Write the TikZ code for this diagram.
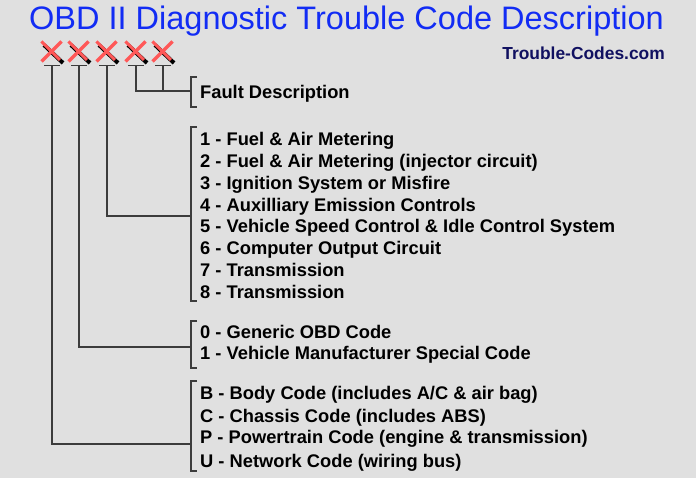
\documentclass[tikz,border=0pt]{standalone}
\usepackage{fontspec}
\setmainfont{Liberation Sans}
\definecolor{bgc}{RGB}{224,224,224}
\definecolor{titleblue}{RGB}{18,44,244}
\definecolor{navy}{RGB}{16,16,96}
\definecolor{xred}{RGB}{255,88,88}
\definecolor{linec}{RGB}{60,60,60}
\begin{document}
\begin{tikzpicture}[x=1pt,y=-1pt,
  conn/.style={draw=linec,line width=1.6pt},
  brk/.style={draw=linec,line width=1.4pt},
  tick/.style={draw=linec,line width=1.2pt},
  itemtext/.style={anchor=base west,inner sep=0pt,font=\fontsize{18.3}{20}\selectfont\bfseries,text=black},
  xmark/.style={minimum size=26pt,inner sep=0pt,
    path picture={
      \draw[black,line width=4pt] ([shift={(-8pt,7pt)}]path picture bounding box.center) -- ([shift={(11pt,-11pt)}]path picture bounding box.center);
      \draw[xred,line width=3pt] ([shift={(-10.5pt,10.5pt)}]path picture bounding box.center) -- ([shift={(8pt,-8pt)}]path picture bounding box.center);
      \draw[xred,line width=3.4pt] ([shift={(-10.5pt,-9.5pt)}]path picture bounding box.center) -- ([shift={(9.5pt,10.5pt)}]path picture bounding box.center);
    }}]
\fill[bgc] (0,0) rectangle (696,478);
\useasboundingbox (0,0) rectangle (696,478);

% title
\node[anchor=base west,inner sep=0pt,text=titleblue,font=\fontsize{32.5}{34}\selectfont] (title) at (29,29.5) {OBD II Diagnostic Trouble Code Description};
\node[anchor=base east,inner sep=0pt,text=navy,font=\fontsize{17.4}{19}\selectfont\bfseries] (site) at (665,59.5) {Trouble-Codes.com};

% X marks
\node[xmark] (x1) at (52,52) {};
\node[xmark] (x2) at (79,52) {};
\node[xmark] (x3) at (107,52) {};
\node[xmark] (x4) at (136,52) {};
\node[xmark] (x5) at (163,52) {};
\foreach \n in {x1,x2,x3,x4,x5}{
  \draw[tick] ([xshift=-8pt]\n.south) -- ([xshift=8pt]\n.south);
}

% brackets
\coordinate (f0) at (191,77);  \coordinate (f1) at (191,107);
\coordinate (g0) at (191,127); \coordinate (g1) at (191,301);
\coordinate (h0) at (191,321); \coordinate (h1) at (191,368);
\coordinate (k0) at (191,381); \coordinate (k1) at (191,471);
\foreach \a/\b in {f0/f1,g0/g1,h0/h1,k0/k1}{
  \draw[brk] ([xshift=6pt]\a) -- (\a) -- (\b) -- ([xshift=6pt]\b);
}
\coordinate (fj) at (191,91);
\coordinate (gj) at (191,216);
\coordinate (hj) at (191,347);
\coordinate (kj) at (191,444);

% connectors
\draw[conn] (x4.south) |- (fj);
\draw[conn] (x5.south) -- (x5.south |- fj);
\draw[conn] (x3.south) |- (gj);
\draw[conn] (x2.south) |- (hj);
\draw[conn] (x1.south) |- (kj);

% texts
\node[itemtext] (fd) at (200,98.5) {Fault Description};
\node[itemtext] (t1) at (200,145.8) {1 - Fuel \& Air Metering};
\node[itemtext] (t2) at (200,167.6) {2 - Fuel \& Air Metering (injector circuit)};
\node[itemtext] (t3) at (200,189.4) {3 - Ignition System or Misfire};
\node[itemtext] (t4) at (200,211.1) {4 - Auxilliary Emission Controls};
\node[itemtext] (t5) at (200,232.9) {5 - Vehicle Speed Control \& Idle Control System};
\node[itemtext] (t6) at (200,254.7) {6 - Computer Output Circuit};
\node[itemtext] (t7) at (200,276.4) {7 - Transmission};
\node[itemtext] (t8) at (200,298.2) {8 - Transmission};
\node[itemtext] (s0) at (200,338.2) {0 - Generic OBD Code};
\node[itemtext] (s1) at (200,359.8) {1 - Vehicle Manufacturer Special Code};
\node[itemtext] (cb) at (200,399.8) {B - Body Code (includes A/C \& air bag)};
\node[itemtext] (cc) at (200,422.2) {C - Chassis Code (includes ABS)};
\node[itemtext] (cp) at (200,443.8) {P - Powertrain Code (engine \& transmission)};
\node[itemtext] (cu) at (200,467.2) {U - Network Code (wiring bus)};
\end{tikzpicture}
\end{document}
